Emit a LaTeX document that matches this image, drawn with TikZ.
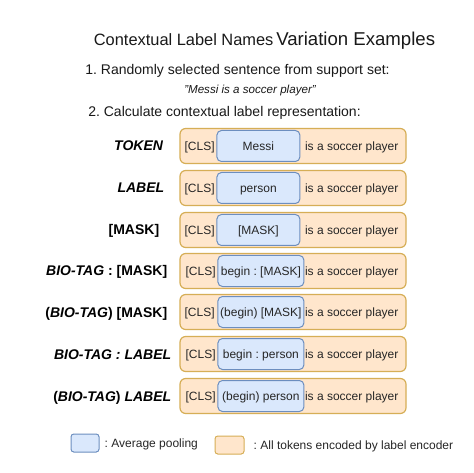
\documentclass[tikz,border=0pt]{standalone}
\usepackage{fontspec}
\setmainfont{Liberation Sans}
\usetikzlibrary{positioning}
\definecolor{encfill}{HTML}{FFE6CC}
\definecolor{encline}{HTML}{D6AE56}
\definecolor{poolfill}{HTML}{DAE8FC}
\definecolor{poolline}{HTML}{6C8EBF}
\frenchspacing

\begin{document}
\begin{tikzpicture}[x=1pt, y=-1pt,
    encoded/.style={rectangle, draw=encline, fill=encfill, line width=1.2pt, rounded corners=2mm,
        minimum width=226pt, minimum height=35pt, inner sep=0pt},
    pooling/.style={rectangle, draw=poolline, fill=poolfill, line width=1pt, rounded corners=1.6mm,
        minimum height=31pt, inner sep=0pt, text height=8.6pt, text depth=0pt,
        font=\fontsize{12}{14}\selectfont, text=black!85},
    plain/.style={rectangle, draw=none, fill=none, inner sep=0pt, text height=8.6pt, text depth=0pt,
        font=\fontsize{12}{14}\selectfont, text=black!85},
    tag/.style={rectangle, draw=none, fill=none, inner sep=0pt, text height=10pt, text depth=0pt,
        font=\fontsize{14}{16}\selectfont\bfseries, anchor=east},
    heading/.style={rectangle, draw=none, fill=none, inner sep=0pt, anchor=base, text=black!90}
]
\useasboundingbox [fill=white] (0,0) rectangle (474,473);

% title and steps
\node (title) [heading] at (264.5,46)
    {{\fontsize{16.4}{20}\selectfont Contextual Label Names} {\fontsize{18.6}{22}\selectfont Variation Examples}};
\node (step1) [heading, font=\fontsize{14}{17}\selectfont] at (237.5,75) {1. Randomly selected sentence from support set:};
\node (sentence) [heading, font=\fontsize{11.6}{14}\selectfont\itshape] at (250,94) {"Messi is a soccer player"};
\node (step2) [heading, font=\fontsize{14}{17}\selectfont] at (224.5,116.5) {2. Calculate contextual label representation:};

% rows
\node (row1) [encoded] at (293,146) {};
\node (cls1) [plain, right=5pt of row1.west] {[CLS]};
\node (pool1) [pooling, minimum width=83pt, right=37pt of row1.west] {Messi};
\node (rest1) [plain, left=8pt of row1.east] {is a soccer player};
\node (lab1) [tag, left=16pt of row1.west] {\textit{TOKEN}};

\node (row2) [encoded] at (293,188) {};
\node (cls2) [plain, right=5pt of row2.west] {[CLS]};
\node (pool2) [pooling, minimum width=83pt, right=37pt of row2.west] {person};
\node (rest2) [plain, left=8pt of row2.east] {is a soccer player};
\node (lab2) [tag, left=15pt of row2.west] {\textit{LABEL}};

\node (row3) [encoded] at (293,230) {};
\node (cls3) [plain, right=5pt of row3.west] {[CLS]};
\node (pool3) [pooling, minimum width=83pt, right=37pt of row3.west] {[MASK]};
\node (rest3) [plain, left=8pt of row3.east] {is a soccer player};
\node (lab3) [tag, left=20pt of row3.west] {[MASK]};

\node (row4) [encoded] at (293,271) {};
\node (cls4) [plain, right=6pt of row4.west] {[CLS]};
\node (pool4) [pooling, minimum width=86pt, right=38pt of row4.west] {begin : [MASK]};
\node (rest4) [plain, left=8pt of row4.east] {is a soccer player};
\node (lab4) [tag, left=12pt of row4.west] {\textit{BIO-TAG} : [MASK]};

\node (row5) [encoded] at (293,312) {};
\node (cls5) [plain, right=5pt of row5.west] {[CLS]};
\node (pool5) [pooling, minimum width=86pt, right=38pt of row5.west] {(begin) [MASK]};
\node (rest5) [plain, left=8pt of row5.east] {is a soccer player};
\node (lab5) [tag, left=12pt of row5.west] {(\textit{BIO-TAG}) [MASK]};

\node (row6) [encoded] at (293,354) {};
\node (cls6) [plain, right=6pt of row6.west] {[CLS]};
\node (pool6) [pooling, minimum width=86pt, right=38pt of row6.west] {begin : person};
\node (rest6) [plain, left=8pt of row6.east] {is a soccer player};
\node (lab6) [tag, left=8pt of row6.west] {\textit{BIO-TAG : LABEL}};

\node (row7) [encoded] at (293,396) {};
\node (cls7) [plain, right=6pt of row7.west] {[CLS]};
\node (pool7) [pooling, minimum width=86pt, right=38pt of row7.west] {(begin) person};
\node (rest7) [plain, left=8pt of row7.east] {is a soccer player};
\node (lab7) [tag, left=8pt of row7.west] {(\textit{BIO-TAG}) \textit{LABEL}};

% legend
\node (legpool) [pooling, minimum width=28pt, minimum height=18pt, rounded corners=1mm] at (85,443) {};
\node (legpooltext) [plain, right=5pt of legpool] {: Average pooling};
\node (legenc) [encoded, minimum width=29pt, minimum height=18pt, line width=1pt, rounded corners=1mm] at (229.5,445) {};
\node (legenctext) [plain, right=9pt of legenc] {: All tokens encoded by label encoder};
\end{tikzpicture}
\end{document}
